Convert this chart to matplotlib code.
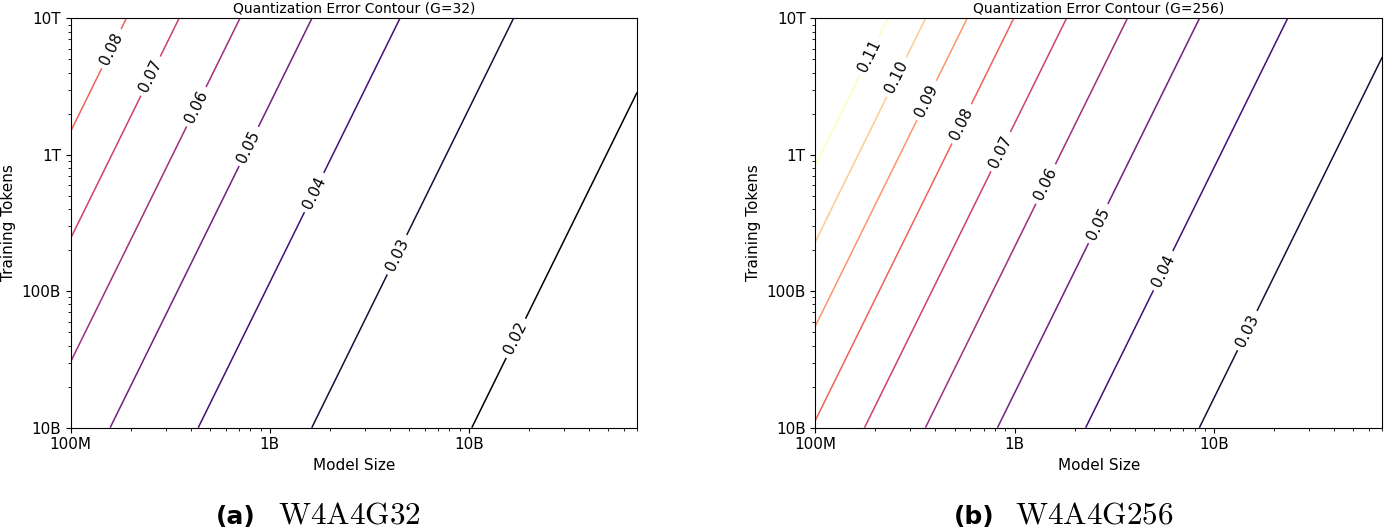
import numpy as np
import matplotlib
matplotlib.use("Agg")
import matplotlib.pyplot as plt
from matplotlib.colors import Normalize
from matplotlib.ticker import NullFormatter

plt.rcParams['mathtext.fontset'] = 'cm'

# quantization error ~ k * D^a / N^b  (N = model size, D = training tokens)
exp_tokens = 0.074
exp_params = 0.219
k_g32 = 0.568
k_g256 = 0.815

levels_g32 = [0.02, 0.03, 0.04, 0.05, 0.06, 0.07, 0.08]
levels_g256 = [0.03, 0.04, 0.05, 0.06, 0.07, 0.08, 0.09, 0.10, 0.11]

# where the inline labels sit (log10 model size, log10 tokens), one per level
label_at_g32 = [(10.23, 10.66), (9.65, 11.26), (9.20, 11.74), (8.91, 12.05),
                (8.62, 12.36), (8.41, 12.57), (8.20, 12.78)]
label_at_g256 = [(10.17, 10.71), (9.76, 11.14), (9.40, 11.51), (9.15, 11.79),
                 (8.92, 12.03), (8.73, 12.23), (8.57, 12.39), (8.42, 12.56),
                 (8.26, 12.73)]

n_range = [1e8, 7e10]
d_range = [1e10, 1e13]

x_ticks = [1e8, 1e9, 1e10]
x_labels = ['100M', '1B', '10B']
y_ticks = [1e10, 1e11, 1e12, 1e13]
y_labels = ['10B', '100B', '1T', '10T']

titles = ['Quantization Error Contour (G=32)', 'Quantization Error Contour (G=256)']
tags = ['(a)', '(b)']
names = ['W4A4G32', 'W4A4G256']

N = np.logspace(np.log10(n_range[0]), np.log10(n_range[1]), 300)
D = np.logspace(np.log10(d_range[0]), np.log10(d_range[1]), 300)
NN, DD = np.meshgrid(N, D)

fig = plt.figure(figsize=(13.87, 5.29), dpi=100)
W, H = 1387, 529
ax1 = fig.add_axes([70.7 / W, 101.3 / H, 566.3 / W, 409.4 / H])
ax2 = fig.add_axes([815.3 / W, 101.3 / H, 567.0 / W, 409.4 / H])

norm = Normalize(vmin=0.02, vmax=0.11)

panels = [(ax1, k_g32, levels_g32, label_at_g32),
          (ax2, k_g256, levels_g256, label_at_g256)]
for i, (ax, k, lev, lab) in enumerate(panels):
    ax.set_xscale('log')
    ax.set_yscale('log')
    ax.set_xlim(n_range)
    ax.set_ylim(d_range)
    Z = k * DD ** exp_tokens / NN ** exp_params
    cs = ax.contour(NN, DD, Z, levels=lev, cmap='magma', norm=norm, linewidths=1.1)
    ax.set_xlim(n_range)
    ax.set_ylim(d_range)
    manual = [(10 ** a, 10 ** b) for a, b in lab]
    ax.clabel(cs, inline=True, fontsize=11, fmt='%.2f', colors='black', manual=manual)
    ax.set_xticks(x_ticks, x_labels)
    ax.set_yticks(y_ticks, y_labels)
    ax.xaxis.set_minor_formatter(NullFormatter())
    ax.yaxis.set_minor_formatter(NullFormatter())
    ax.tick_params(labelsize=11)
    ax.set_xlabel('Model Size', fontsize=11)
    ax.set_ylabel('Training Tokens', fontsize=11)
    ax.set_title(titles[i], fontsize=10, pad=4)

# subfigure captions
fig.text(216 / W, 5 / H, tags[0], fontsize=18, fontweight='bold', va='baseline')
fig.text(278 / W, 5 / H, r'$\mathrm{' + names[0] + '}$', fontsize=22.5, va='baseline')
fig.text(954 / W, 5 / H, tags[1], fontsize=18, fontweight='bold', va='baseline')
fig.text(1014.5 / W, 5 / H, r'$\mathrm{' + names[1] + '}$', fontsize=22.5, va='baseline')

fig.savefig('out.png', dpi=100)
